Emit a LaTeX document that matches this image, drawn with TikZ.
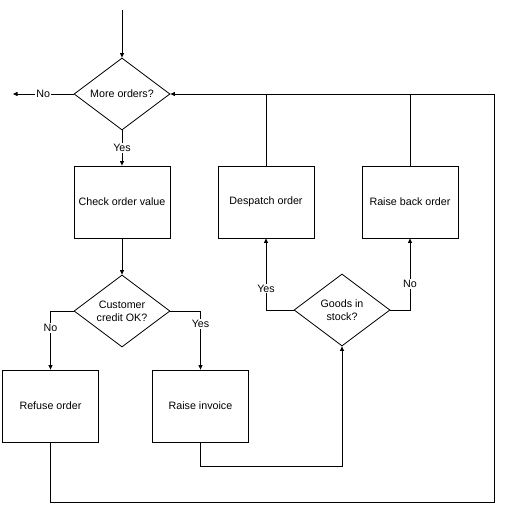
\documentclass[tikz,border=0pt]{standalone}
\usepackage{fontspec}
\setmainfont{Liberation Sans}
\usetikzlibrary{shapes.geometric,arrows.meta}
\begin{document}
\begin{tikzpicture}[x=1pt,y=-1pt,line width=0.8pt,
  every node/.style={font=\fontsize{10.7}{13}\selectfont},
  proc/.style={draw,rectangle,minimum width=96pt,minimum height=72pt,inner sep=0pt},
  dec/.style={draw,diamond,minimum width=96pt,minimum height=72pt,inner sep=0pt,aspect=1.33,align=center},
  lbl/.style={fill=white,inner sep=1pt},
  arr/.style={-{Triangle[length=4.5pt,width=4pt]}}]
\useasboundingbox (0,0) rectangle (522,511);
\coordinate (start) at (122,10);
\coordinate (exit) at (13,94);
\node[dec] (more) at (122,94) {More orders?};
\node[proc] (check) at (122,202) {Check order value};
\node[dec] (cust) at (122,311) {Customer\\credit OK?};
\node[proc] (refuse) at (50.5,406) {Refuse order};
\node[proc] (invoice) at (200.5,406) {Raise invoice};
\node[dec] (goods) at (342,310) {Goods in\\stock?};
\node[proc] (despatch) at (266,202) {Despatch order};
\node[proc] (back) at (410,202) {Raise back order};
\coordinate (c1) at (494,502);
\coordinate (c2) at (494,94);
\coordinate (c3) at (342,466);

\draw[arr] (start) -- (more.north);
\draw[arr] (more.west) -- node[lbl,pos=0.5] {No} (exit);
\draw[arr] (more.south) -- node[lbl,pos=0.5] {Yes} (check.north);
\draw[arr] (check.south) -- (cust.north);
\draw[arr] (cust.west) -| node[lbl,pos=0.645] {No} (refuse.north);
\draw[arr] (cust.east) -| node[lbl,pos=0.61] {Yes} (invoice.north);
\draw[arr] (invoice.south) |- (c3) -- (goods.south);
\draw[arr] (goods.west) -| node[lbl,pos=0.65] {Yes} (despatch.south);
\draw[arr] (goods.east) -| node[lbl,pos=0.68] {No} (back.south);
\draw[arr] (refuse.south) |- (c1) -- (c2) -- (more.east);
\draw (despatch.north) -- (despatch.north |- c2);
\draw (back.north) -- (back.north |- c2);
\end{tikzpicture}
\end{document}
